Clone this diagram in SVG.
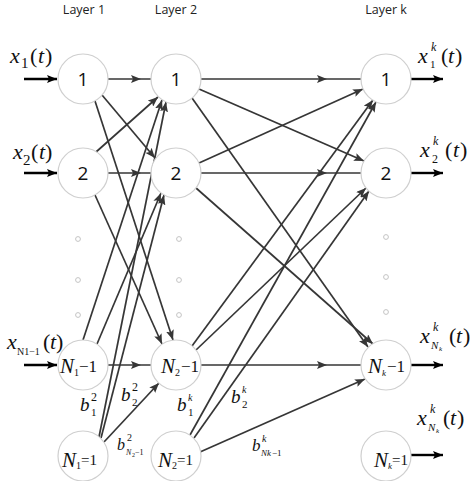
<svg xmlns="http://www.w3.org/2000/svg" width="474" height="481" viewBox="0 0 474 481">
<style>
.node{fill:#fff;stroke:#cfcfcf;stroke-width:1.2}
.dot{fill:#fff;stroke:#c4c4c4;stroke-width:1}
.e{fill:none;stroke:#363636;stroke-width:1.7}
.eh{fill:none;stroke:#363636;stroke-width:1.7;marker-mid:url(#ah)}
.ed{fill:none;stroke:#363636;stroke-width:1.7;marker-end:url(#ah)}
.io{fill:none;stroke:#000;stroke-width:2.4;marker-end:url(#ab)}
.lay{font-family:"Open Sans","Liberation Sans",sans-serif;font-size:12.5px;fill:#222;text-anchor:middle}
.num{font-family:"Open Sans","Liberation Sans",sans-serif;font-size:19px;fill:#111;text-anchor:middle}
.m{font-family:"Liberation Serif","Times New Roman",serif;font-style:italic;fill:#111}
.u{font-style:normal}
</style>
<defs>
<marker id="ah" viewBox="0 0 10 8" markerUnits="userSpaceOnUse" markerWidth="10" markerHeight="8" refX="10" refY="4" orient="auto">
<path d="M0,0 L10,4 L0,8 L2,4 z" fill="#363636"/>
</marker>
<marker id="ab" viewBox="0 0 10 8" markerUnits="userSpaceOnUse" markerWidth="10" markerHeight="8" refX="10" refY="4" orient="auto">
<path d="M0,0 L10,4 L0,8 L2,4 z" fill="#000"/>
</marker>
</defs>

<g id="layer-labels">
<text class="lay" x="84" y="14">Layer 1</text>
<text class="lay" x="176" y="14">Layer 2</text>
<text class="lay" x="386" y="14">Layer k</text>
</g>

<g id="connectors">
<!-- layer 1 to layer 2 -->
<path class="eh" d="M108,79 L141,79 L151,79"/>
<path class="ed" d="M102,95 L155,158"/>
<path class="ed" d="M95,101 L173,340"/>
<path class="ed" d="M96,152 L158,97"/>
<path class="eh" d="M108,173 L141,173 L151,173"/>
<path class="ed" d="M95,195 L162,344"/>
<path class="ed" d="M83,340 L162,100"/>
<path class="ed" d="M97,344 L161,193"/>
<path class="eh" d="M108,365 L141,365 L151,365"/>
<path class="ed" d="M99,437 L166,102"/>
<path class="ed" d="M101,438 L164,195"/>
<path class="ed" d="M104,442 L159,383"/>
<!-- layer 2 to layer k -->
<path class="eh" d="M201,79 L327,79 L361,79"/>
<path class="ed" d="M199,89 L364,161"/>
<path class="ed" d="M192,98 L368,347"/>
<path class="ed" d="M199,163 L363,89"/>
<path class="eh" d="M201,173 L327,173 L361,173"/>
<path class="ed" d="M196,188 L373,344"/>
<path class="ed" d="M192,346 L373,100"/>
<path class="ed" d="M196,350 L366,188"/>
<path class="eh" d="M201,365 L327,365 L361,365"/>
<path class="ed" d="M190,435 L376,102"/>
<path class="ed" d="M194,438 L369,191"/>
<path class="ed" d="M200,452 L365,379"/>
<!-- inputs -->
<path class="io" d="M24,79 L57,79"/>
<path class="io" d="M24,173 L57,173"/>
<path class="io" d="M24,365 L57,365"/>
<!-- outputs -->
<path class="io" d="M411,79 L443,79"/>
<path class="io" d="M411,173 L443,173"/>
<path class="io" d="M411,365 L443,365"/>
<path class="io" d="M411,455 L443,455"/>
</g>

<g id="dots">
<circle class="dot" cx="78" cy="239" r="2.4"/>
<circle class="dot" cx="78" cy="280" r="2.4"/>
<circle class="dot" cx="78" cy="315" r="2.4"/>
<circle class="dot" cx="179" cy="239" r="2.4"/>
<circle class="dot" cx="179" cy="280" r="2.4"/>
<circle class="dot" cx="179" cy="315" r="2.4"/>
<circle class="dot" cx="386" cy="237" r="2.4"/>
<circle class="dot" cx="386" cy="277" r="2.4"/>
<circle class="dot" cx="386" cy="312" r="2.4"/>
</g>

<g id="n-1-1"><circle class="node" cx="83" cy="79" r="25"/><text class="num" x="83" y="86">1</text></g>
<g id="n-1-2"><circle class="node" cx="83" cy="173" r="25"/><text class="num" x="83" y="180">2</text></g>
<g id="n-1-3"><circle class="node" cx="83" cy="365" r="25"/><text class="m" x="60" y="373" font-size="21">N<tspan class="u" font-size="10" x="74" y="376">1</tspan><tspan class="u" font-size="17" x="79" y="372">−1</tspan></text></g>
<g id="n-1-4"><circle class="node" cx="83" cy="456" r="25"/><text class="m" x="62" y="467" font-size="21">N<tspan class="u" font-size="10" x="76" y="469">1</tspan><tspan class="u" font-size="15" x="81" y="465">=1</tspan></text></g>

<g id="n-2-1"><circle class="node" cx="176" cy="79" r="25"/><text class="num" x="176" y="86">1</text></g>
<g id="n-2-2"><circle class="node" cx="176" cy="173" r="25"/><text class="num" x="176" y="180">2</text></g>
<g id="n-2-3"><circle class="node" cx="176" cy="365" r="25"/><text class="m" x="161" y="373" font-size="21">N<tspan class="u" font-size="10" x="175" y="376">2</tspan><tspan class="u" font-size="17" x="181" y="372">−1</tspan></text></g>
<g id="n-2-4"><circle class="node" cx="176" cy="456" r="25"/><text class="m" x="158" y="467" font-size="21">N<tspan class="u" font-size="10" x="172" y="469">2</tspan><tspan class="u" font-size="15" x="177" y="465">=1</tspan></text></g>

<g id="n-k-1"><circle class="node" cx="386" cy="79" r="25"/><text class="num" x="386" y="86">1</text></g>
<g id="n-k-2"><circle class="node" cx="386" cy="173" r="25"/><text class="num" x="386" y="180">2</text></g>
<g id="n-k-3"><circle class="node" cx="386" cy="365" r="25"/><text class="m" x="368" y="373" font-size="21">N<tspan font-size="9" x="382" y="376">k</tspan><tspan class="u" font-size="17" x="387" y="372">−1</tspan></text></g>
<g id="n-k-4"><circle class="node" cx="386" cy="456" r="25"/><text class="m" x="374" y="467" font-size="21">N<tspan font-size="9" x="388" y="469">k</tspan><tspan class="u" font-size="15" x="392" y="465">=1</tspan></text></g>

<g id="inputs">
<text class="m" x="10" y="63" font-size="22">x<tspan class="u" font-size="15" x="21" y="68">1</tspan><tspan class="u" x="30" y="63">(</tspan><tspan x="38" y="63">t</tspan><tspan class="u" x="45" y="63">)</tspan></text>
<text class="m" x="13" y="159" font-size="22">x<tspan class="u" font-size="15" x="23" y="165">2</tspan><tspan class="u" x="31" y="159">(</tspan><tspan x="39" y="159">t</tspan><tspan class="u" x="45" y="159">)</tspan></text>
<text class="m" x="7" y="349" font-size="22">x<tspan class="u" font-size="10" x="17" y="355">N1−1</tspan><tspan class="u" x="43" y="349">(</tspan><tspan x="50" y="349">t</tspan><tspan class="u" x="56" y="349">)</tspan></text>
</g>

<g id="outputs">
<text class="m" x="418" y="63" font-size="22">x<tspan font-size="12" x="431" y="51">k</tspan><tspan class="u" font-size="11" x="430" y="68">1</tspan><tspan class="u" x="441" y="63">(</tspan><tspan x="448" y="63">t</tspan><tspan class="u" x="455" y="63">)</tspan></text>
<text class="m" x="420" y="157" font-size="22">x<tspan font-size="12" x="433" y="145">k</tspan><tspan class="u" font-size="12" x="432" y="163">2</tspan><tspan class="u" x="445" y="157">(</tspan><tspan x="453" y="157">t</tspan><tspan class="u" x="460" y="157">)</tspan></text>
<text class="m" x="420" y="343" font-size="22">x<tspan font-size="12" x="433" y="331">k</tspan><tspan font-size="11" x="431" y="349">N</tspan><tspan font-size="7" x="439" y="351">k</tspan><tspan class="u" x="449" y="343">(</tspan><tspan x="456" y="343">t</tspan><tspan class="u" x="463" y="343">)</tspan></text>
<text class="m" x="417" y="425" font-size="22">x<tspan font-size="12" x="430" y="413">k</tspan><tspan font-size="11" x="428" y="431">N</tspan><tspan font-size="7" x="436" y="433">k</tspan><tspan class="u" x="443" y="425">(</tspan><tspan x="450" y="425">t</tspan><tspan class="u" x="457" y="425">)</tspan></text>
</g>

<g id="bias-labels">
<text class="m" x="80" y="411" font-size="19">b<tspan class="u" font-size="12" x="91" y="401">2</tspan><tspan class="u" font-size="11" x="91" y="416">1</tspan></text>
<text class="m" x="121" y="401" font-size="19">b<tspan class="u" font-size="12" x="132" y="391">2</tspan><tspan class="u" font-size="11" x="132" y="406">2</tspan></text>
<text class="m" x="117" y="450" font-size="16">b<tspan class="u" font-size="10" x="127" y="441">2</tspan><tspan font-size="8" x="126" y="455">N</tspan><tspan class="u" font-size="6" x="132" y="457">2</tspan><tspan class="u" font-size="8" x="135" y="455">−1</tspan></text>
<text class="m" x="177" y="411" font-size="19">b<tspan font-size="10" x="188" y="401">k</tspan><tspan class="u" font-size="11" x="188" y="416">1</tspan></text>
<text class="m" x="231" y="403" font-size="19">b<tspan font-size="10" x="242" y="393">k</tspan><tspan class="u" font-size="11" x="242" y="408">2</tspan></text>
<text class="m" x="252" y="451" font-size="17">b<tspan font-size="10" x="262" y="442">k</tspan><tspan font-size="9" x="261" y="456">Nk</tspan><tspan class="u" font-size="9" x="272" y="456">−1</tspan></text>
</g>
</svg>
